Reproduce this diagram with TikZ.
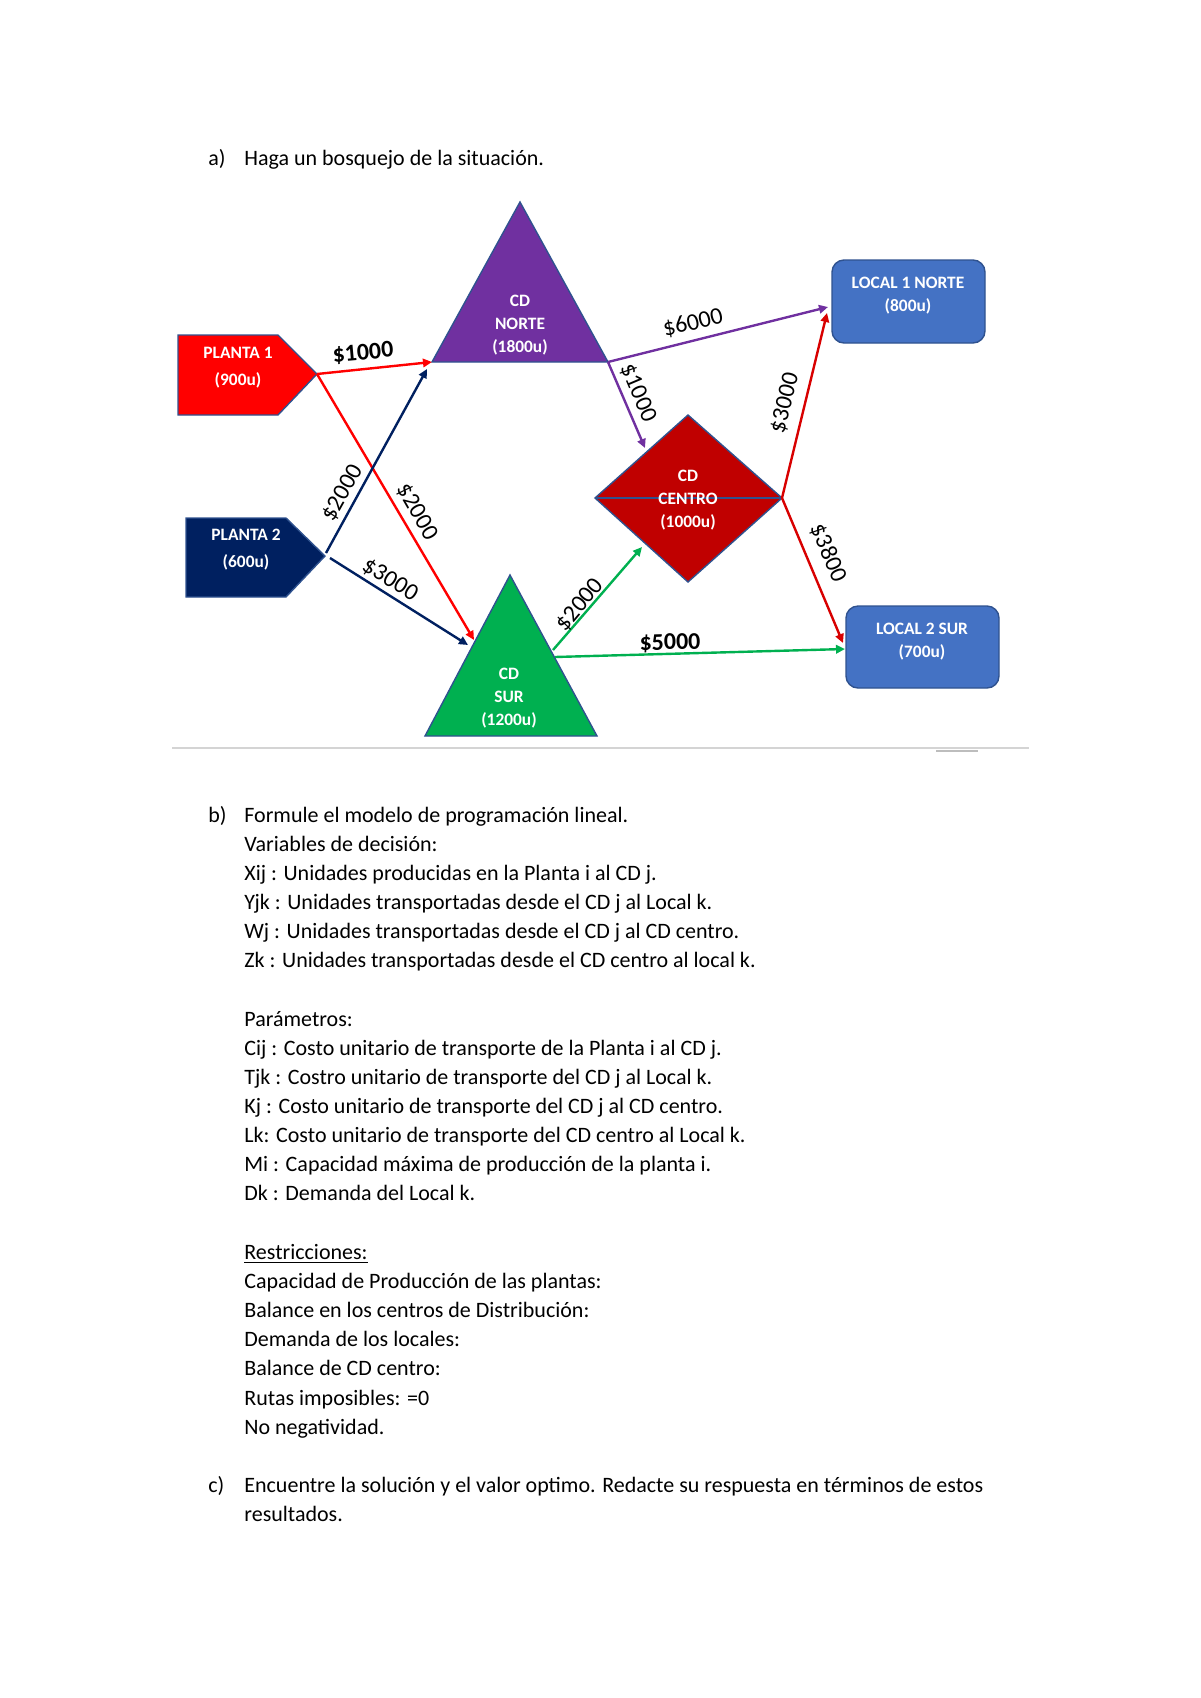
\documentclass[tikz,border=0pt]{standalone}
\usepackage{fontspec}
\setmainfont{Carlito}
\usetikzlibrary{arrows.meta}
\definecolor{rojo}{HTML}{FF0000}
\definecolor{marino}{HTML}{002060}
\definecolor{morado}{HTML}{7030A0}
\definecolor{rojoosc}{HTML}{C00000}
\definecolor{rojoflecha}{HTML}{D80000}
\definecolor{verde}{HTML}{00B050}
\definecolor{azul}{HTML}{4472C4}
\definecolor{borde}{HTML}{2F528F}
\definecolor{linea}{HTML}{D4D4D4}
\definecolor{lineaosc}{HTML}{BDBDBD}
\tikzset{
  shapeline/.style={draw=borde, line width=0.7pt},
  lbl/.style={text=white, align=center, inner sep=0pt, font=\fontsize{8.7}{13.5}\selectfont\bfseries},
  lbltight/.style={text=white, align=center, inner sep=0pt, font=\fontsize{8.7}{11.5}\selectfont\bfseries},
  arr/.style={line width=1.2pt, -{Triangle[length=4.5pt,width=4.2pt]}},
  costb/.style={inner sep=0pt, font=\fontsize{12}{14}\selectfont\bfseries},
  costr/.style={inner sep=0pt, font=\fontsize{12}{14}\selectfont},
  body/.style={anchor=base west, inner sep=0pt, font=\fontsize{11}{13}\selectfont}
}
\begin{document}
\begin{tikzpicture}[x=0.5pt,y=-0.5pt]
\useasboundingbox (0,0) rectangle (1200,1698);

% ---------- heading a)
\node[body] (la) at (208,165) {a)};
\node[body] (ta) at (244,165) {Haga un bosquejo de la situación.};

% ---------- shapes
% PLANTA 1
\coordinate (p1tip) at (317,374);
\draw[shapeline, fill=rojo] (178,335) -- (278,335) -- (p1tip) -- (278,415) -- (178,415) -- cycle;
\node[lbl] (p1) at (238,368) {PLANTA 1\\(900u)};
% PLANTA 2
\coordinate (p2tip) at (325,556);
\draw[shapeline, fill=marino] (186,518) -- (286,518) -- (p2tip) -- (286,597) -- (186,597) -- cycle;
\node[lbl] (p2) at (246,550) {PLANTA 2\\(600u)};
% CD NORTE
\coordinate (nBL) at (432,362);
\coordinate (nBR) at (608,362);
\draw[shapeline, fill=morado] (520,202) -- (nBR) -- (nBL) -- cycle;
\node[lbltight] (cn) at (520,325) {CD\\NORTE\\(1800u)};
% CD SUR
\draw[shapeline, fill=verde] (510,575) -- (597,736) -- (425,736) -- cycle;
\node[lbltight] (cs) at (509,698) {CD\\SUR\\(1200u)};
% CD CENTRO
\coordinate (dL) at (595,498);
\coordinate (dR) at (782,498);
\draw[shapeline, fill=rojoosc] (688,415) -- (dR) -- (688,582) -- (dL) -- cycle;
\draw[shapeline] (dL) -- (dR);
\node[lbltight] (cc) at (688,500) {CD\\CENTRO\\(1000u)};
% LOCAL 1 NORTE
\draw[shapeline, fill=azul, rounded corners=6pt] (832,260) rectangle (985,343);
\node[lbltight] (l1) at (908,296) {LOCAL 1 NORTE\\(800u)};
% LOCAL 2 SUR
\draw[shapeline, fill=azul, rounded corners=6pt] (846,606) rectangle (999,688);
\node[lbltight] (l2) at (922,642) {LOCAL 2 SUR\\(700u)};

% ---------- connector end points
\coordinate (p2a) at (326,553);
\coordinate (p2b) at (330,558);
\coordinate (nIn) at (427,369);
\coordinate (sIn1) at (474,640);
\coordinate (sIn2) at (468,645);
\coordinate (dIn1) at (645,448);
\coordinate (dIn2) at (642,547);
\coordinate (l1In1) at (828,307);
\coordinate (l1In2) at (827,313);
\coordinate (l2In1) at (843,643);
\coordinate (l2In2) at (845,649);
\coordinate (sOut1) at (553,650);
\coordinate (sOut2) at (555,657);

% ---------- connectors
\draw[arr, rojo] (p1tip) -- (nBL);
\draw[arr, rojo] (p1tip) -- (sIn1);
\draw[arr, marino] (p2a) -- (nIn);
\draw[arr, marino] (p2b) -- (sIn2);
\draw[arr, morado] (nBR) -- (l1In1);
\draw[arr, morado] (nBR) -- (dIn1);
\draw[arr, rojoflecha] (dR) -- (l1In2);
\draw[arr, rojoflecha] (dR) -- (l2In1);
\draw[arr, verde] (sOut1) -- (dIn2);
\draw[arr, verde] (sOut2) -- (l2In2);

% ---------- cost labels
\node[costb, rotate=5] (k1) at (363,353) {\$1000};
\node[costr, rotate=61] (k2) at (343,493) {\$2000};
\node[costr, rotate=-60] (k3) at (417,512) {\$2000};
\node[costr, rotate=-32] (k4) at (390,580) {\$3000};
\node[costr, rotate=14] (k5) at (693,323) {\$6000};
\node[costr, rotate=-67] (k6) at (638,393) {\$1000};
\node[costr, rotate=76] (k7) at (785,403) {\$3000};
\node[costr, rotate=-67] (k8) at (828,553) {\$3800};
\node[costr, rotate=50] (k9) at (580,605) {\$2000};
\node[costb, rotate=1.5] (k10) at (670,643) {\$5000};

% ---------- separator
\draw[linea, line width=1pt] (172,748) -- (1029,748);
\draw[lineaosc, line width=1pt] (936,751) -- (978,751);

% ---------- part b)
\def\ls{29.15}
\node[body] (lb) at (208,822) {b)};
\node[body] (t0) at (244,822) {Formule el modelo de programación lineal.};
\node[body] (t1) at (244,822+1*\ls) {Variables de decisión:};
\node[body] (t2) at (244,822+2*\ls) {Xij : Unidades producidas en la Planta i al CD j.};
\node[body] (t3) at (244,822+3*\ls) {Yjk : Unidades transportadas desde el CD j al Local k.};
\node[body] (t4) at (244,822+4*\ls) {Wj : Unidades transportadas desde el CD j al CD centro.};
\node[body] (t5) at (244,822+5*\ls) {Zk : Unidades transportadas desde el CD centro al local k.};
\node[body] (t7) at (244,822+7*\ls) {Parámetros:};
\node[body] (t8) at (244,822+8*\ls) {Cij : Costo unitario de transporte de la Planta i al CD j.};
\node[body] (t9) at (244,822+9*\ls) {Tjk : Costro unitario de transporte del CD j al Local k.};
\node[body] (t10) at (244,822+10*\ls) {Kj : Costo unitario de transporte del CD j al CD centro.};
\node[body] (t11) at (244,822+11*\ls) {Lk: Costo unitario de transporte del CD centro al Local k.};
\node[body] (t12) at (244,822+12*\ls) {Mi : Capacidad máxima de producción de la planta i.};
\node[body] (t13) at (244,822+13*\ls) {Dk : Demanda del Local k.};
\node[body] (t15) at (244,822+15*\ls) {\underline{Restricciones:}};
\node[body] (t16) at (244,822+16*\ls) {Capacidad de Producción de las plantas:};
\node[body] (t17) at (244,822+17*\ls) {Balance en los centros de Distribución:};
\node[body] (t18) at (244,822+18*\ls) {Demanda de los locales:};
\node[body] (t19) at (244,822+19*\ls) {Balance de CD centro:};
\node[body] (t20) at (244,822+20*\ls) {Rutas imposibles: =0};
\node[body] (t21) at (244,822+21*\ls) {No negatividad.};
\node[body] (lc) at (208,822+23*\ls) {c)};
\node[body] (t23) at (244,822+23*\ls) {Encuentre la solución y el valor optimo. Redacte su respuesta en términos de estos};
\node[body] (t24) at (244,822+24*\ls) {resultados.};
\end{tikzpicture}
\end{document}
